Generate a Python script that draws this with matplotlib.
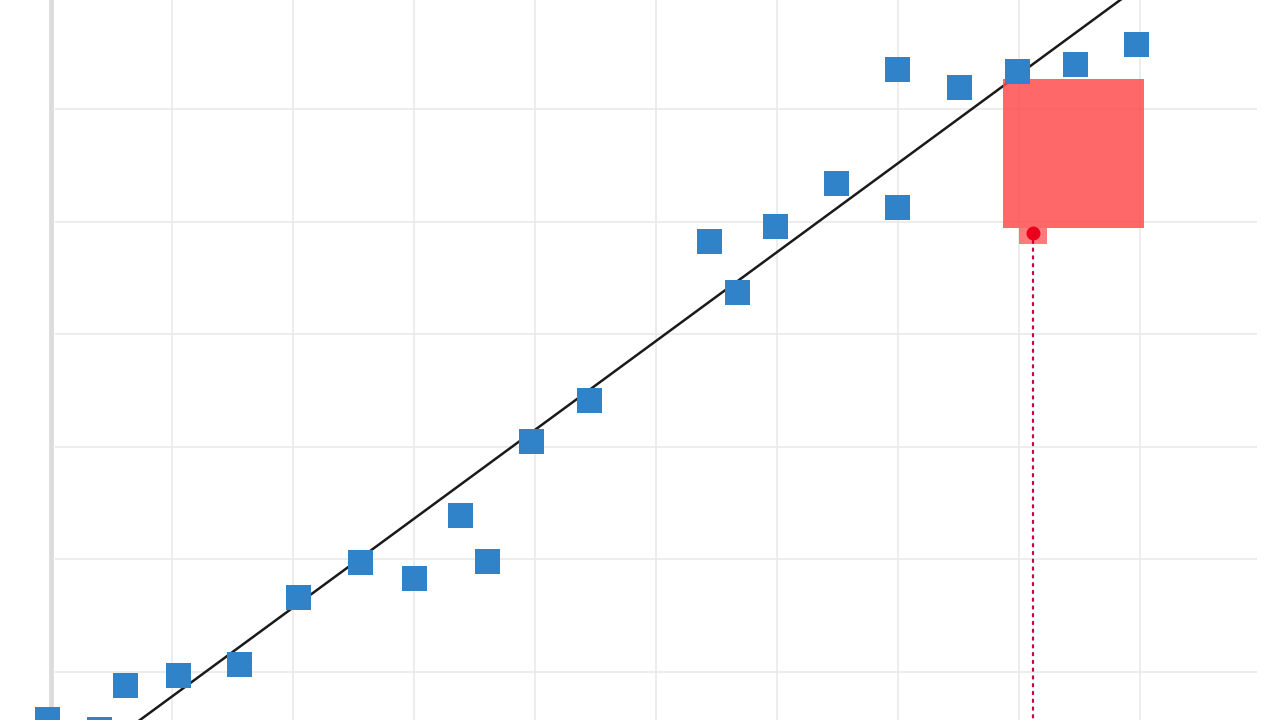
import numpy as np
import matplotlib
matplotlib.use('Agg')
import matplotlib.pyplot as plt
from matplotlib.patches import Rectangle

# scatter points
xs = [-0.03, 0.40, 0.61, 1.05, 1.55, 2.04, 2.55, 3.00, 3.38, 3.60, 3.97,
      4.45, 5.44, 5.67, 5.98, 6.49, 6.99, 6.99, 7.50, 7.98, 8.46, 8.97]
ys = [-0.42, -0.51, -0.12, -0.03, 0.07, 0.66, 0.97, 0.83, 1.39, 0.98, 2.05,
      2.41, 3.83, 3.37, 3.96, 4.34, 4.13, 5.36, 5.20, 5.34, 5.40, 5.58]

# fitted line
slope = 0.790
intercept = -1.012

# highlighted point and its square
pt_x, pt_y = 8.116, 3.898
sq_x0, sq_x1 = 7.868, 9.033
sq_y0, sq_y1 = 3.942, 5.267
small_x0, small_x1 = 7.999, 8.231
small_y0, small_y1 = 3.80, 3.942

fig = plt.figure(figsize=(12.8, 7.2), dpi=100)
ax = fig.add_axes([0, 0, 1, 1])
ax.set_xlim(-51 / 121, 1229 / 121)
ax.set_ylim(-0.431, 5.969)
ax.axis('off')

# grid
for gx in range(1, 10):
    ax.axvline(gx, color='#e8e8e8', lw=1.1, zorder=0)
for gy in range(0, 6):
    ax.hlines(gy, 0.03, 9.97, color='#e8e8e8', lw=1.1, zorder=0)
ax.axvline(0, color='#dcdcdc', lw=3.5, zorder=0)

# regression line
lx = np.array([-0.5, 10.5])
ax.plot(lx, slope * lx + intercept, color='#1a1a1a', lw=1.8, zorder=3)

# residual square
ax.add_patch(Rectangle((sq_x0, sq_y0), sq_x1 - sq_x0, sq_y1 - sq_y0,
                       facecolor='#ff4d4d', alpha=0.85, lw=0, zorder=4))
ax.add_patch(Rectangle((small_x0, small_y0), small_x1 - small_x0, small_y1 - small_y0,
                       facecolor='#ff4d4d', alpha=0.75, lw=0, zorder=4))

# points
ax.scatter(xs, ys, marker='s', s=324, color='#3083c9', linewidths=0, zorder=5)

ax.plot([pt_x, pt_x], [pt_y, -1], color='#cc0040', lw=1.6,
        linestyle=(0, (1, 2.5)), dash_capstyle='round', zorder=6)
ax.scatter([pt_x], [pt_y], s=100, color='#e8001c', linewidths=0, zorder=7)

fig.savefig('out.png', dpi=100)
